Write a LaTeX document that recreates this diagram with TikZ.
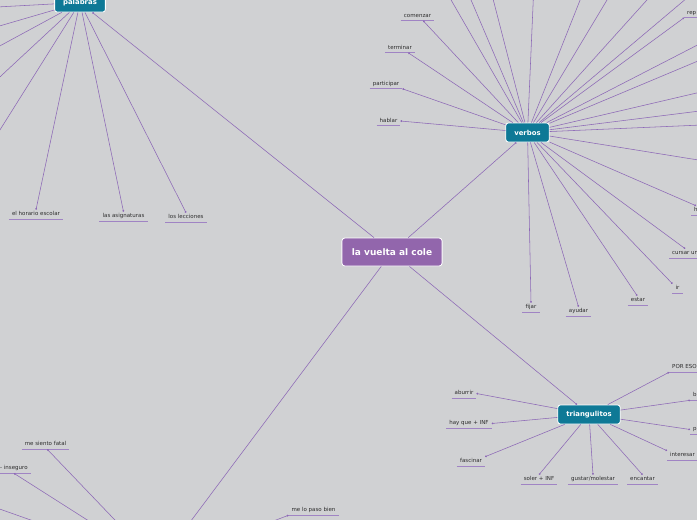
\documentclass[tikz,border=0pt]{standalone}
\usepackage{fontspec}
\setmainfont{DejaVu Sans}
\usepackage{tikz}
\usetikzlibrary{
  arrows.meta % for the small round tips
  }
\definecolor{bggray}{RGB}{208,209,211}
\definecolor{rootpurple}{RGB}{146,102,172}
\definecolor{topicteal}{RGB}{14,121,150}
\definecolor{linkpurple}{RGB}{140,104,182}
\definecolor{ulinepurple}{RGB}{160,132,196}
\definecolor{leaftext}{RGB}{45,45,45}
\tikzstyle{root} = [draw=white, line width=0.8pt, fill=rootpurple, rounded corners=3pt, text=white, font=\fontsize{9}{10}\selectfont\bfseries, inner xsep=10pt, minimum height=28pt]
\tikzstyle{topic} = [draw=white, line width=0.8pt, fill=topicteal, rounded corners=2.5pt, text=white, font=\fontsize{6.9}{8}\selectfont\bfseries, inner xsep=8.5pt, minimum height=19pt]
\tikzstyle{leaf} = [text=leaftext, font=\fontsize{5.5}{6}\selectfont, inner xsep=3pt, inner ysep=2pt, text height=4pt, text depth=1.2pt]
\tikzstyle{uline} = [ulinepurple, line width=1.3pt]
\tikzstyle{link} = [linkpurple, line width=0.55pt]

\begin{document}
\begin{tikzpicture}[ x=1pt, y=-1pt, >={Circle[length=1.8pt]} ]

\useasboundingbox (0,0) rectangle (697,520);
\fill[bggray] (0,0) rectangle (697,520);

% main nodes
\node[root] (cole) at (392,252) {la vuelta al cole};
\node[topic] (palabras) at (80,2.5) {palabras};
\node[topic] (verbos) at (527.5,132.5) {verbos};
\node[topic] (triang) at (589,414.5) {triangulitos};
\coordinate (hub) at (158,565);

% palabras
\node[leaf] (horario) at (36,214.5) {el horario escolar};
\node[leaf] (asign) at (123.5,216.5) {las asignaturas};
\node[leaf] (lecc) at (186,217.5) {los lecciones};

% verbos
\node[leaf] (comenzar) at (417.5,16) {comenzar};
\node[leaf] (terminar) at (400,48) {terminar};
\node[leaf] (particip) at (386,84) {participar};
\node[leaf] (hablar) at (388.5,121) {hablar};
\node[leaf] (fijar) at (531,307.5) {fijar};
\node[leaf] (ayudar) at (578.5,311.5) {ayudar};
\node[leaf] (estar) at (638,300.5) {estar};
\node[leaf] (ir) at (677.5,288.5) {ir};
\node[leaf, anchor=west] (cursar) at (669,253.5) {cursar un};
\node[leaf, anchor=west] (vh) at (691,210.5) {h};
\node[leaf, anchor=west] (rep) at (684,13) {rep};

% triangulitos
\node[leaf, anchor=west] (poreso) at (669,367.5) {POR ESO};
\node[leaf, anchor=west] (tb) at (690,395.5) {b};
\node[leaf, anchor=west] (tp) at (690,429.5) {p};
\node[leaf] (interes) at (682.5,455.5) {interesar};
\node[leaf] (encantar) at (642.5,479.5) {encantar};
\node[leaf] (gustar) at (593,479.5) {gustar/molestar};
\node[leaf] (soler) at (539,479.5) {soler + INF};
\node[leaf] (fascinar) at (471,461.5) {fascinar};
\node[leaf] (hayque) at (469,423.5) {hay que + INF};
\node[leaf] (aburrir) at (464,393.5) {aburrir};

% bottom branch
\node[leaf] (fatal) at (45.5,444.5) {me siento fatal};
\node[leaf, anchor=west] (inseg) at (-3,468.5) {- inseguro};
\node[leaf] (paso) at (313.5,510.5) {me lo paso bien};

\foreach \n in {horario,asign,lecc,comenzar,terminar,particip,hablar,fijar,ayudar,estar,ir,cursar,vh,rep,poreso,tb,tp,interes,encantar,gustar,soler,fascinar,hayque,aburrir,fatal,inseg,paso}
  \draw[uline] (\n.south west) -- (\n.south east);

% free ends off the page
\foreach \y [count=\i] in {9,37.5,67.5,114,193.5} \coordinate (pw\i) at (-40,\y);
\foreach \x [count=\i] in {428,454,483,535,596,631,683,732} \coordinate (vt\i) at (\x,-40);
\foreach \y [count=\i] in {19,40,81,105,123,168} \coordinate (vr\i) at (748,\y);
\coordinate (hw1) at (-40,495);

% connectors
\draw[link,->] (cole) -- (palabras);
\draw[link,->] (cole) -- (verbos);
\draw[link,->] (cole) -- (triang);
\draw[link,->] (cole) -- (hub);

\foreach \i in {1,...,5} \draw[link,->] (palabras) -- (pw\i);
\draw[link,->] (palabras) -- (horario.north);
\draw[link,->] (palabras) -- (asign.north);
\draw[link,->] (palabras) -- (lecc.north);

\foreach \i in {1,...,8} \draw[link,->] (verbos) -- (vt\i);
\foreach \i in {1,...,6} \draw[link,->] (verbos) -- (vr\i);
\draw[link,->] (verbos) -- (comenzar.-40);
\draw[link,->] (verbos) -- (terminar.-30);
\draw[link,->] (verbos) -- (particip.south east);
\draw[link,->] (verbos) -- (hablar.east);
\draw[link,->] (verbos) -- (fijar.north);
\draw[link,->] (verbos) -- (ayudar.north);
\draw[link,->] (verbos) -- (estar.100);
\draw[link,->] (verbos) -- (ir.north west);
\draw[link,->] (verbos) -- (cursar.north);
\draw[link,->] (verbos) -- (vh.north);
\draw[link,->] (verbos) -- (rep.south west);

\draw[link,->] (triang) -- (poreso.south west);
\draw[link,->] (triang) -- (tb.south west);
\draw[link,->] (triang) -- (tp.west);
\draw[link,->] (triang) -- (interes.north west);
\draw[link,->] (triang) -- (encantar.north);
\draw[link,->] (triang) -- (gustar.north);
\draw[link,->] (triang) -- (soler.north);
\draw[link,->] (triang) -- (fascinar.north east);
\draw[link,->] (triang) -- (hayque.east);
\draw[link,->] (triang) -- (aburrir.east);

\draw[link,->] (hub) -- (fatal.-70);
\draw[link,->] (hub) -- (inseg.south);
\draw[link,->] (hub) -- (hw1);
\draw[link,->] (hub) -- (paso.south west);

\end{tikzpicture}
\end{document}
